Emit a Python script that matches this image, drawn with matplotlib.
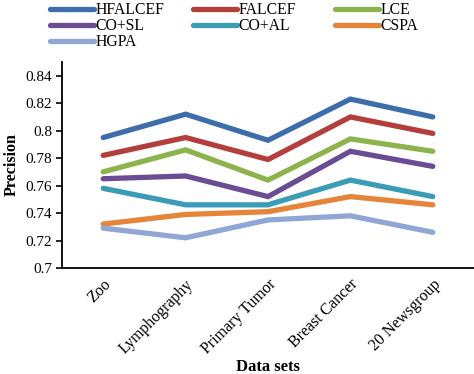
import matplotlib
matplotlib.use("Agg")
import matplotlib.pyplot as plt
from matplotlib.lines import Line2D

plt.rcParams['font.family'] = ['Liberation Serif', 'DejaVu Serif']

categories = ["Zoo", "Lymphography", "Primary Tumor", "Breast Cancer", "20 Newsgroup"]
hfalcef = [0.795, 0.812, 0.793, 0.823, 0.810]
falcef = [0.782, 0.795, 0.779, 0.810, 0.798]
lce = [0.770, 0.786, 0.764, 0.794, 0.785]
co_sl = [0.765, 0.767, 0.752, 0.785, 0.774]
co_al = [0.758, 0.746, 0.746, 0.764, 0.752]
cspa = [0.732, 0.739, 0.741, 0.752, 0.746]
hgpa = [0.729, 0.722, 0.735, 0.738, 0.726]
yticks = [0.7, 0.72, 0.74, 0.76, 0.78, 0.8, 0.82, 0.84]
ytick_labels = ["0.7", "0.72", "0.74", "0.76", "0.78", "0.8", "0.82", "0.84"]

series = [
    ("HFALCEF", hfalcef, "#3d6eab"),
    ("FALCEF", falcef, "#b43e3c"),
    ("LCE", lce, "#8db34c"),
    ("CO+SL", co_sl, "#6a4c94"),
    ("CO+AL", co_al, "#3a9cb6"),
    ("CSPA", cspa, "#e6843a"),
    ("HGPA", hgpa, "#90a6d4"),
]

W, H = 474, 374
fig = plt.figure(figsize=(W / 100, H / 100), dpi=100)
ax = fig.add_axes([62 / W, (374 - 268) / H, (474 - 62) / W, (268 - 62) / H])

x = list(range(len(categories)))
handles = {}
for name, vals, col in series:
    ln, = ax.plot(x, vals, color=col, lw=3.8, solid_capstyle='round',
                  solid_joinstyle='miter')
    handles[name] = ln

ax.set_xlim(-0.5, 4.5)
ax.set_ylim(0.7, 0.85)
ax.set_yticks(yticks)
ax.set_yticklabels(ytick_labels, fontsize=11)
ax.set_xticks(x)
ax.set_xticklabels(categories, rotation=45, ha='right', rotation_mode='anchor',
                   fontsize=11.5)
ax.tick_params(axis='x', length=0, pad=6)
ax.tick_params(axis='y', length=4, width=1.2, direction='out', pad=3)
for s in ['top', 'right']:
    ax.spines[s].set_visible(False)
ax.spines['left'].set_linewidth(1.3)
ax.spines['bottom'].set_linewidth(1.3)
ax.set_ylabel("Precision", fontsize=11.5, fontweight='bold', labelpad=4)
ax.set_xlabel("Data sets", fontsize=12, fontweight='bold', labelpad=1)

cols = [(["HFALCEF", "CO+SL", "HGPA"], 50), (["FALCEF", "CO+AL"], 193), (["LCE", "CSPA"], 335)]
for names, xpix in cols:
    hs = [Line2D([0], [0], color=handles[n].get_color(), lw=3.8,
                 solid_capstyle='round') for n in names]
    fig.legend(hs, names, loc='upper left',
               bbox_to_anchor=(xpix / W, 1 - 2 / H), frameon=False,
               fontsize=11.3, handlelength=2.8, handletextpad=0.12,
               labelspacing=0.0, borderpad=0.0, borderaxespad=0.0)

fig.savefig("out.png", dpi=100)
